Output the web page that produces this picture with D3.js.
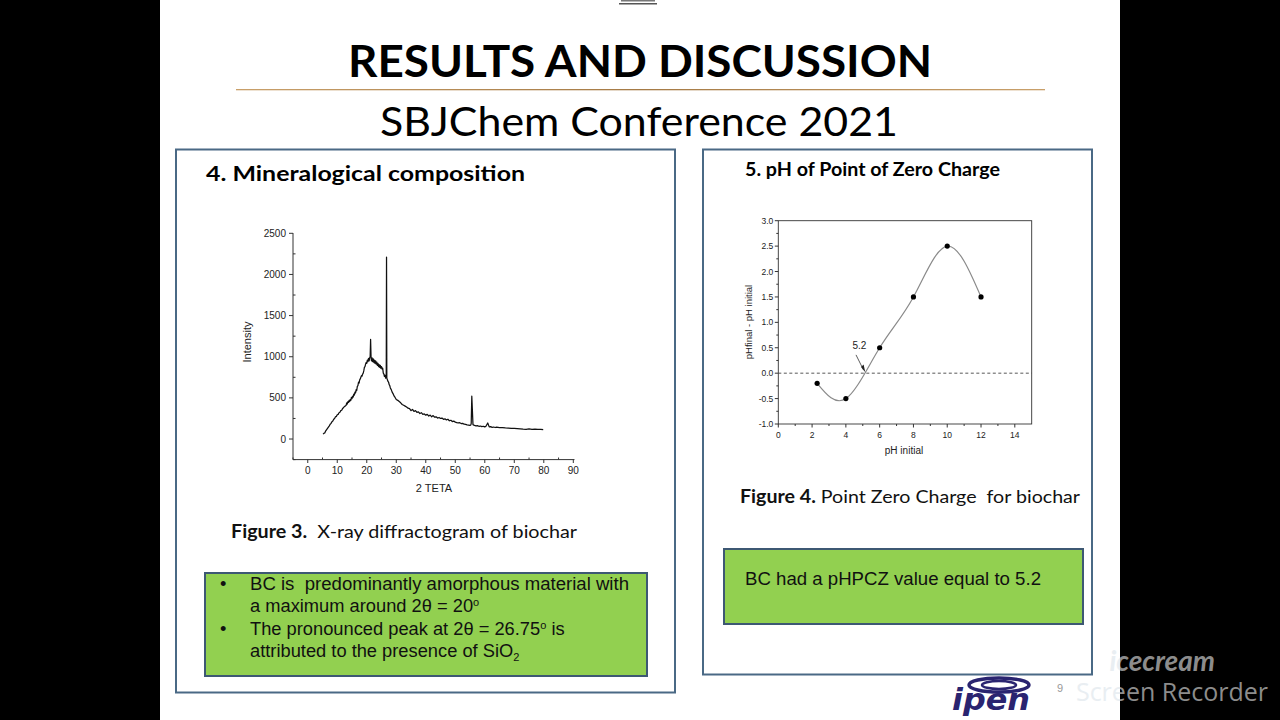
<!DOCTYPE html>
<html><head><meta charset="utf-8">
<script src="https://cdn.jsdelivr.net/npm/d3@7/dist/d3.min.js"></script>
<style>html,body{margin:0;padding:0;background:#000;overflow:hidden} text{white-space:pre}</style>
</head><body>
<svg id="c" width="1280" height="720"></svg>
<script>
// ---------- DATA ----------
const xrdTheta = [5.2,5.5,5.8,6.1,6.4,6.7,7.0,7.3,7.6,7.9,8.2,8.5,8.8,9.1,9.4,9.7,10.0,10.3,10.6,10.9,11.2,11.5,11.8,12.1,12.4,12.7,13.0,13.2,13.4,13.6,13.8,14.0,14.2,14.4,14.6,14.8,15.0,15.2,15.4,15.6,15.8,16.0,16.2,16.4,16.6,16.8,17.0,17.2,17.4,17.6,17.8,18.0,18.2,18.4,18.6,18.8,19.0,19.2,19.4,19.6,19.8,20.0,20.2,20.4,20.6,20.8,21.0,21.15,21.3,21.45,21.6,21.8,22.0,22.2,22.4,22.6,22.8,23.0,23.2,23.4,23.6,23.8,24.0,24.2,24.4,24.6,24.8,25.0,25.2,25.4,25.6,25.8,26.0,26.2,26.4,26.6,26.7,26.8,27.0,27.2,27.4,27.6,27.8,28.0,28.3,28.6,29.0,29.3,29.6,30.0,30.5,31.0,31.5,32.0,32.5,33.0,33.5,34.0,34.5,35.0,35.5,36.0,36.5,37.0,37.5,38.0,38.5,39.0,39.5,40.0,40.5,41.0,41.5,42.0,42.5,43.0,43.5,44.0,44.5,45.0,45.5,46.0,46.5,47.0,47.5,48.0,48.5,49.0,49.5,50.0,50.5,51.0,51.5,52.0,52.5,53.0,53.5,54.0,54.5,55.0,55.2,55.3,55.4,55.6,56.0,56.5,57.0,57.5,58.0,58.5,59.0,59.5,59.9,60.1,60.3,61.0,61.5,62.0,62.5,63.0,63.5,64.0,65.0,66.0,67.0,68.0,69.0,70.0,71.0,72.0,73.0,74.0,75.0,76.0,77.0,78.0,79.0,79.8];
const xrdIntensity = [60,70,75,100,115,130,145,160,180,190,210,220,240,250,270,275,295,300,320,325,345,350,370,380,395,400,410,440,425,455,445,470,455,480,470,505,490,520,510,545,535,570,560,600,590,640,650,690,680,720,730,750,770,765,790,800,830,870,880,910,930,920,960,940,980,950,990,1000,1210,1000,950,985,940,975,930,960,920,950,910,935,895,920,880,905,870,895,860,880,850,860,800,790,760,775,740,750,2210,740,720,700,690,660,650,620,600,570,545,520,505,480,470,455,440,420,410,400,390,375,370,345,360,335,345,325,330,310,320,300,305,290,300,280,290,270,285,265,270,255,262,250,255,240,245,232,240,222,228,212,218,205,200,195,198,188,190,180,178,172,170,165,170,175,190,520,175,165,160,162,155,158,150,155,148,152,150,195,148,150,142,146,140,144,138,140,136,133,130,128,126,124,120,118,122,118,120,116,118,114,112,110];

const phInitial = [2.3,4,6,8,10,12];
const phDelta = [-0.2,-0.5,0.5,1.5,2.5,1.5];

const xrdXTicks = [0,10,20,30,40,50,60,70,80,90];
const xrdYTicks = [0,500,1000,1500,2000,2500];
const phXTicks = [0,2,4,6,8,10,12,14];
const phYTicks = [-1.0,-0.5,0.0,0.5,1.0,1.5,2.0,2.5,3.0];

const svg = d3.select("#c");
const AR = "Liberation Sans, Arial, sans-serif";
const CAL = "Lato, 'Open Sans', sans-serif";

// ---------- slide ----------
svg.append("rect").attr("x",0).attr("y",0).attr("width",1280).attr("height",720).attr("fill","#000");
svg.append("rect").attr("x",160).attr("y",0).attr("width",960).attr("height",720).attr("fill","#fff");
svg.append("rect").attr("x",621).attr("y",0).attr("width",34).attr("height",1.5).attr("fill","#777");
svg.append("rect").attr("x",619).attr("y",3).attr("width",38).attr("height",1.5).attr("fill","#555");

svg.append("text").attr("x",640).attr("y",77).attr("text-anchor","middle")
  .attr("font-family",CAL).attr("font-weight","bold").attr("font-size",43)
  .attr("textLength",584).attr("lengthAdjust","spacingAndGlyphs").attr("fill","#000")
  .text("RESULTS AND DISCUSSION");
const defs = svg.append("defs");
const grad = defs.append("linearGradient").attr("id","lg");
grad.append("stop").attr("offset","0").attr("stop-color","#c9a06a");
grad.append("stop").attr("offset","0.5").attr("stop-color","#a57a45");
grad.append("stop").attr("offset","1").attr("stop-color","#c9a06a");
svg.append("rect").attr("x",236).attr("y",89).attr("width",809).attr("height",1.3).attr("fill","url(#lg)");
svg.append("text").attr("x",639).attr("y",136).attr("text-anchor","middle")
  .attr("font-family",CAL).attr("font-size",40)
  .attr("textLength",518).attr("lengthAdjust","spacingAndGlyphs").attr("fill","#000")
  .text("SBJChem Conference 2021");

// panels
svg.append("rect").attr("x",176).attr("y",149.5).attr("width",499).attr("height",543).attr("fill","#fff").attr("stroke","#4a6985").attr("stroke-width",2);
svg.append("rect").attr("x",703).attr("y",149.5).attr("width",389).attr("height",525).attr("fill","#fff").attr("stroke","#4a6985").attr("stroke-width",2);

svg.append("text").attr("x",206).attr("y",181).attr("font-family",CAL).attr("font-weight","bold").attr("font-size",21.5)
  .attr("textLength",319).attr("lengthAdjust","spacingAndGlyphs").text("4. Mineralogical composition");
svg.append("text").attr("x",745).attr("y",176).attr("font-family",CAL).attr("font-weight","bold").attr("font-size",18)
  .attr("textLength",255).attr("lengthAdjust","spacingAndGlyphs").text("5. pH of Point of Zero Charge");

// ---------- XRD chart ----------
const xX = d3.scaleLinear().domain([-5,90]).range([293,573.3]);
const xY = d3.scaleLinear().domain([-250,2500]).range([459.6,233.3]);
const gx = svg.append("g").attr("font-family",AR);
gx.append("line").attr("x1",293).attr("x2",293).attr("y1",233).attr("y2",459.6).attr("stroke","#333").attr("stroke-width",1);
gx.append("line").attr("x1",293).attr("x2",574.5).attr("y1",459.6).attr("y2",459.6).attr("stroke","#333").attr("stroke-width",1);
xrdYTicks.forEach(v=>{
  gx.append("line").attr("x1",289).attr("x2",293).attr("y1",xY(v)).attr("y2",xY(v)).attr("stroke","#333");
  gx.append("text").attr("x",286).attr("y",xY(v)+3.5).attr("text-anchor","end").attr("font-size",10).attr("fill","#222").text(v);
});
d3.range(-250,2500,500).forEach(v=>{
  gx.append("line").attr("x1",293).attr("x2",295.5).attr("y1",xY(v)).attr("y2",xY(v)).attr("stroke","#333");
});
xrdXTicks.forEach(v=>{
  gx.append("line").attr("x1",xX(v)).attr("x2",xX(v)).attr("y1",459.6).attr("y2",463).attr("stroke","#333");
  gx.append("text").attr("x",xX(v)).attr("y",474).attr("text-anchor","middle").attr("font-size",10).attr("fill","#222").text(v);
});
d3.range(-5,90,10).forEach(v=>{
  gx.append("line").attr("x1",xX(v)).attr("x2",xX(v)).attr("y1",459.6).attr("y2",457.5).attr("stroke","#333");
});
gx.append("text").attr("x",434).attr("y",492).attr("text-anchor","middle").attr("font-size",11).attr("fill","#222").text("2 TETA");
gx.append("text").attr("transform","translate(251,342) rotate(-90)").attr("text-anchor","middle").attr("font-size",11).attr("fill","#222").text("Intensity");
const xrdLine = d3.line().x((d,i)=>xX(xrdTheta[i])).y((d,i)=>xY(xrdIntensity[i]));
gx.append("path").attr("d",xrdLine(xrdTheta)).attr("fill","none").attr("stroke","#111").attr("stroke-width",1.25).attr("stroke-linejoin","round");

svg.append("text").attr("x",231).attr("y",538).attr("font-family",CAL).attr("font-size",18).attr("fill","#111")
  .attr("textLength",346).attr("lengthAdjust","spacingAndGlyphs")
  .call(t=>{t.append("tspan").attr("font-weight","bold").text("Figure 3.");t.append("tspan").text("  X-ray diffractogram of biochar");});

// ---------- pH chart ----------
const pX = d3.scaleLinear().domain([0,15]).range([778.3,1031.7]);
const pY = d3.scaleLinear().domain([-1,3]).range([424,220.7]);
const gp = svg.append("g").attr("font-family",AR);
gp.append("rect").attr("x",pX(0)).attr("y",pY(3)).attr("width",pX(15)-pX(0)).attr("height",pY(-1)-pY(3)).attr("fill","none").attr("stroke","#333").attr("stroke-width",0.9);
phYTicks.forEach(v=>{
  gp.append("line").attr("x1",pX(0)-3.5).attr("x2",pX(0)).attr("y1",pY(v)).attr("y2",pY(v)).attr("stroke","#333");
  gp.append("text").attr("x",pX(0)-5).attr("y",pY(v)+3).attr("text-anchor","end").attr("font-size",8.5).attr("fill","#222").text(v.toFixed(1));
});
d3.range(-0.75,3,0.5).forEach(v=>{
  gp.append("line").attr("x1",pX(0)-2).attr("x2",pX(0)).attr("y1",pY(v)).attr("y2",pY(v)).attr("stroke","#333");
});
phXTicks.forEach(v=>{
  gp.append("line").attr("x1",pX(v)).attr("x2",pX(v)).attr("y1",pY(-1)).attr("y2",pY(-1)+3.5).attr("stroke","#333");
  gp.append("text").attr("x",pX(v)).attr("y",pY(-1)+14).attr("text-anchor","middle").attr("font-size",8.5).attr("fill","#222").text(v);
});
d3.range(1,15,2).forEach(v=>{
  gp.append("line").attr("x1",pX(v)).attr("x2",pX(v)).attr("y1",pY(-1)).attr("y2",pY(-1)+2).attr("stroke","#333");
});
gp.append("text").attr("x",904).attr("y",454).attr("text-anchor","middle").attr("font-size",10).attr("fill","#222").text("pH initial");
gp.append("text").attr("transform","translate(752,322) rotate(-90)").attr("text-anchor","middle").attr("font-size",9.5).attr("fill","#222").text("pHfinal - pH initial");
gp.append("line").attr("x1",pX(0)).attr("x2",pX(15)).attr("y1",pY(0)).attr("y2",pY(0)).attr("stroke","#444").attr("stroke-width",0.9).attr("stroke-dasharray","3,2.5");
const phLine = d3.line().curve(d3.curveNatural).x((d,i)=>pX(phInitial[i])).y((d,i)=>pY(phDelta[i]));
gp.append("path").attr("d",phLine(phInitial)).attr("fill","none").attr("stroke","#8a8a8a").attr("stroke-width",1.2);
gp.selectAll("circle.pt").data(phInitial).join("circle").attr("class","pt")
  .attr("cx",(d,i)=>pX(d)).attr("cy",(d,i)=>pY(phDelta[i])).attr("r",2.6).attr("fill","#000");
gp.append("text").attr("x",pX(4.8)).attr("y",pY(0.45)-1).attr("text-anchor","middle").attr("font-size",10).attr("fill","#222").text("5.2");
gp.append("line").attr("x1",pX(4.6)).attr("y1",pY(0.36)).attr("x2",pX(5.05)).attr("y2",pY(0.06)).attr("stroke","#333").attr("stroke-width",0.8);
gp.append("path").attr("d",`M${pX(5.15)},${pY(0.02)} L${pX(4.9)},${pY(0.12)} L${pX(5.05)},${pY(0.17)} Z`).attr("fill","#222");

svg.append("text").attr("x",740).attr("y",503).attr("font-family",CAL).attr("font-size",18).attr("fill","#111")
  .attr("textLength",340).attr("lengthAdjust","spacingAndGlyphs")
  .call(t=>{t.append("tspan").attr("font-weight","bold").text("Figure 4.");t.append("tspan").text(" Point Zero Charge  for biochar");});

// ---------- green boxes ----------
svg.append("rect").attr("x",205).attr("y",573).attr("width",442).attr("height",103).attr("fill","#92d050").attr("stroke","#3d5873").attr("stroke-width",2);
const bt = svg.append("g").attr("font-family",AR).attr("font-size",18.3).attr("fill","#111");
bt.append("text").attr("x",220).attr("y",590).text("•");
bt.append("text").attr("x",220).attr("y",635).text("•");
bt.append("text").attr("x",250).attr("y",590).attr("textLength",379).attr("lengthAdjust","spacingAndGlyphs").text("BC is  predominantly amorphous material with");
bt.append("text").attr("x",250).attr("y",612).call(t=>{t.append("tspan").text("a maximum around 2θ = 20");t.append("tspan").attr("font-size",11).attr("dy",-6).text("o");});
bt.append("text").attr("x",250).attr("y",635).call(t=>{t.append("tspan").text("The pronounced peak at 2θ = 26.75");t.append("tspan").attr("font-size",11).attr("dy",-6).text("o");t.append("tspan").attr("dy",6).text(" is");});
bt.append("text").attr("x",250).attr("y",657).call(t=>{t.append("tspan").text("attributed to the presence of SiO");t.append("tspan").attr("font-size",11).attr("dy",4).text("2");});

svg.append("rect").attr("x",724).attr("y",549).attr("width",359).attr("height",75).attr("fill","#92d050").attr("stroke","#3d5873").attr("stroke-width",2);
svg.append("text").attr("x",745).attr("y",585).attr("font-family",AR).attr("font-size",18.3).attr("fill","#111")
  .attr("textLength",296).attr("lengthAdjust","spacingAndGlyphs").text("BC had a pHPCZ value equal to 5.2");

// ---------- footer decorations ----------
svg.append("text").attr("x",1057).attr("y",692).attr("font-family",AR).attr("font-size",11).attr("fill","#999").text("9");
const logo = svg.append("g");
logo.append("ellipse").attr("cx",999).attr("cy",685).attr("rx",30).attr("ry",7).attr("fill","none").attr("stroke","#2a2470").attr("stroke-width",3.5);
logo.append("ellipse").attr("cx",999).attr("cy",685).attr("rx",17).attr("ry",4).attr("fill","none").attr("stroke","#2a2470").attr("stroke-width",2.5);
logo.append("text").attr("x",952).attr("y",710).attr("font-family","'DejaVu Sans', sans-serif").attr("font-weight","bold").attr("font-style","italic").attr("font-size",30).attr("fill","#2a2470")
  .attr("textLength",78).attr("lengthAdjust","spacingAndGlyphs").text("ipen");

// watermark
defs.append("clipPath").attr("id","outS").append("rect").attr("x",1120).attr("y",0).attr("width",160).attr("height",720);
defs.append("clipPath").attr("id","inS").append("rect").attr("x",160).attr("y",0).attr("width",960).attr("height",720);
[["outS","#8c8c8c"],["inS","#e9eef2"]].forEach(([c,col])=>{
  const g = svg.append("g").attr("clip-path",`url(#${c})`);
  g.append("text").attr("x",1215).attr("y",671).attr("text-anchor","end").attr("font-family",CAL).attr("font-style","italic").attr("font-weight","bold").attr("font-size",28).attr("fill",col).text("icecream");
  g.append("text").attr("x",1268).attr("y",701).attr("text-anchor","end").attr("font-family","'Open Sans', sans-serif").attr("font-size",25).attr("fill",col).text("Screen Recorder");
});
</script>
</body></html>
